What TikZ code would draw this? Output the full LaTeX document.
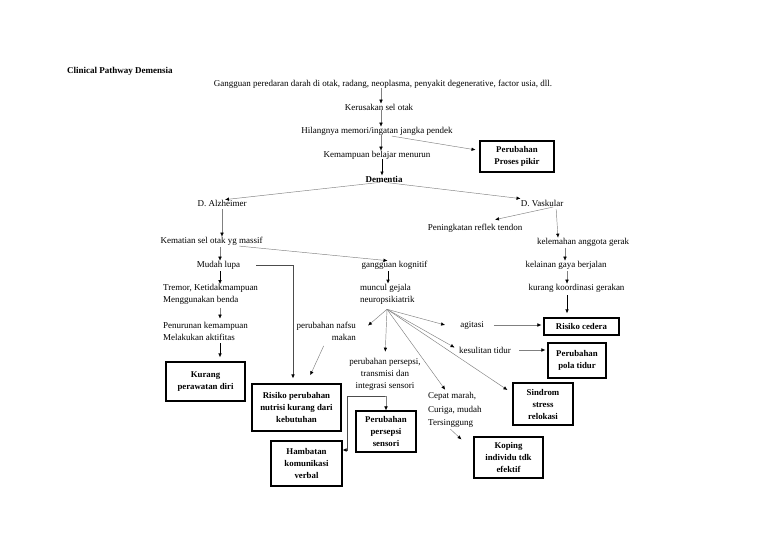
\documentclass[tikz,border=0pt]{standalone}
\usepackage{fontspec}
\setmainfont{Liberation Serif}
\usetikzlibrary{arrows.meta}
\begin{document}
\begin{tikzpicture}[x=1pt,y=-1pt,
  txt/.style={inner sep=0pt, font=\fontsize{9}{12}\selectfont, align=center},
  btxt/.style={txt, font=\bfseries\fontsize{9}{12}\selectfont},
  bx/.style={draw, line width=1.1pt, inner sep=1pt, align=center, font=\bfseries\fontsize{8.8}{12}\selectfont},
  ga/.style={draw=black!50, line width=0.45pt, -{Latex[length=4pt,width=3.5pt,color=black]}},
  ba/.style={draw=black, line width=0.7pt, -{Latex[length=4pt,width=3.5pt]}},
  gl/.style={draw=black!70, line width=0.6pt}
]
\fill[white] (0,0) rectangle (768,543);
\useasboundingbox (0,0) rectangle (768,543);

% text nodes
\node[btxt, anchor=west] (title) at (67,71) {Clinical Pathway Demensia};
\node[txt] (gangguan) at (383,84) {Gangguan peredaran darah di otak, radang, neoplasma, penyakit degenerative, factor usia, dll.};
\node[txt] (kerusakan) at (379,107) {Kerusakan sel otak};
\node[txt] (hilang) at (377,131) {Hilangnya memori/ingatan jangka pendek};
\node[txt] (kemampuan) at (377,155) {Kemampuan belajar menurun};
\node[btxt] (dementia) at (384,179) {Dementia};
\node[txt] (alz) at (222,203) {D. Alzheimer};
\node[txt] (vask) at (542,203) {D. Vaskular};
\node[txt] (kematian) at (211.5,241) {Kematian sel otak yg massif};
\node[txt] (peningkatan) at (475,228) {Peningkatan reflek tendon};
\node[txt] (kelemahan) at (583,242) {kelemahan anggota gerak};
\node[txt] (mudah) at (218.5,265) {Mudah lupa};
\node[txt] (gangguank) at (394.5,265) {gangguan kognitif};
\node[txt] (kelainan) at (566,265) {kelainan gaya berjalan};
\node[txt, anchor=west, align=left] (tremor) at (163,294.5) {Tremor, Ketidakmampuan\\Menggunakan benda};
\node[txt, anchor=west, align=left] (muncul) at (360,294) {muncul gejala\\neuropsikiatrik};
\node[txt] (kurangkoord) at (576.5,288) {kurang koordinasi gerakan};
\node[txt, anchor=west, align=left] (penurunan) at (163,331) {Penurunan kemampuan\\Melakukan aktifitas};
\node[txt, anchor=east, align=right] (nafsu) at (356,331) {perubahan nafsu\\makan};
\node[txt] (agitasi) at (472,325) {agitasi};
\node[txt] (kesulitan) at (485,350) {kesulitan tidur};
\node[txt] (persepsi) at (385,374) {perubahan persepsi,\\transmisi dan\\integrasi sensori};
\node[txt, anchor=west, align=left, font=\fontsize{9}{13.5}\selectfont] (cepat) at (428,410) {Cepat marah,\\Curiga, mudah\\Tersinggung};

% boxes
\node[bx, minimum width=74pt, minimum height=31pt] (proses) at (517,156.5) {Perubahan\\Proses pikir};
\node[bx, minimum width=75pt, minimum height=17pt] (cedera) at (581.5,326.5) {Risiko cedera};
\node[bx, minimum width=58pt, minimum height=35pt] (polatidur) at (577,360.5) {Perubahan\\pola tidur};
\node[bx, minimum width=79pt, minimum height=39pt] (kurangrawat) at (205.5,381.5) {Kurang\\perawatan diri};
\node[bx, minimum width=60pt, minimum height=42pt] (sindrom) at (543,404) {Sindrom\\stress\\relokasi};
\node[bx, minimum width=89pt, minimum height=47pt] (nutrisi) at (296.5,407.5) {Risiko perubahan\\nutrisi kurang dari\\kebutuhan};
\node[bx, minimum width=60pt, minimum height=41pt] (persepsiS) at (386,431.5) {Perubahan\\persepsi\\sensori};
\node[bx, minimum width=71pt, minimum height=45pt] (hambatan) at (306.5,463.5) {Hambatan\\komunikasi\\verbal};
\node[bx, minimum width=69pt, minimum height=41pt] (koping) at (508.5,457.5) {Koping\\individu tdk\\efektif};

% connectors
\draw[ga] ([xshift=-2pt]gangguan.south) -- ([xshift=2pt]kerusakan.north);
\draw[ga] ([xshift=2pt]kerusakan.south) -- ([xshift=4pt]hilang.north);
\draw[ga] ([xshift=4pt]hilang.south) -- ([xshift=4pt]kemampuan.north);
\draw[ba] ([xshift=5pt]kemampuan.south) -- ([xshift=-2pt]dementia.north);
\draw[ga, shorten <=5pt, shorten >=4pt] ([xshift=10pt]hilang.south) -- ([yshift=6pt]proses.west);
\draw[ga] ([xshift=-4pt]dementia.south) -- ([xshift=3pt]alz.north);
\draw[ga] ([xshift=1pt]dementia.south) -- ([yshift=1pt]vask.north west);
\draw[ga, shorten <=3pt] (alz.south) -- (alz.south |- kematian.north);
\draw[ga, shorten <=3pt] ([xshift=14pt]vask.south) -- ([xshift=20pt,yshift=4pt]peningkatan.north);
\draw[ga, shorten <=3pt] ([xshift=14pt]vask.south) -- ([xshift=-25pt]kelemahan.north);
\draw[ga, shorten <=2pt] ([xshift=8.5pt]kematian.south) -- ([xshift=1.5pt]mudah.north);
\draw[ga, shorten <=8pt] ([xshift=20pt]kematian.south) -- ([xshift=-7pt]gangguank.north);
\draw[ga, shorten <=2pt] ([xshift=-18pt]kelemahan.south) -- ([xshift=-1pt]kelainan.north);
\draw[ga, shorten <=2pt] ([xshift=1pt]kelainan.south) -- ([xshift=-9.5pt]kurangkoord.north);
\draw[ba, shorten <=3pt, shorten >=4pt] ([xshift=-9.5pt]kurangkoord.south) -- ([xshift=-14.5pt]cedera.north);
\draw[ba, shorten <=2pt] ([xshift=1.5pt]mudah.south) -- ([xshift=1.5pt]mudah.south |- tremor.north);
\draw[gl, -{Latex[length=4pt,width=3.5pt,color=black]}, shorten >=5pt] ([xshift=16pt]mudah.east) -| ([xshift=-3.5pt]nutrisi.north);
\draw[ba, shorten <=2pt] ([xshift=-6.5pt]gangguank.south) -- ([xshift=-6.5pt]gangguank.south |- muncul.north);
\draw[ga, shorten <=3pt, shorten >=3pt] ([xshift=1.5pt]mudah.south |- tremor.south) -- ([xshift=1.5pt]mudah.south |- penurunan.north);
\draw[ba, shorten <=3pt, shorten >=4pt] ([xshift=1.5pt]mudah.south |- penurunan.south) -- ([xshift=1.5pt]mudah.south |- kurangrawat.north);

\coordinate (mj) at ([xshift=27pt,yshift=-5pt]muncul.south west);
\draw[ga] (mj) -- ([xshift=12pt,yshift=-4pt]nafsu.north east);
\draw[ga, shorten >=6pt] (mj) -- (persepsi.north);
\draw[ga] (mj) -- ([xshift=-15pt]agitasi.west);
\draw[ga, shorten >=5pt] (mj) -- (kesulitan.west);
\draw[ga] (mj) -- ([xshift=-5pt,yshift=14pt]sindrom.west);
\draw[ga, shorten >=3pt] (mj) -- ([xshift=-8pt]cepat.north);
\draw[ga, shorten <=10pt, shorten >=2pt] (agitasi.east) -- (agitasi.east -| cedera.west);
\draw[ga, shorten <=8pt, shorten >=2pt] (kesulitan.east) -- (kesulitan.east -| polatidur.west);
\draw[ga, shorten <=6pt, shorten >=9pt] (nafsu.south) -- ([xshift=10pt]nutrisi.north);
\draw[ga, shorten <=2pt] ([xshift=-6pt]cepat.south) -- ([xshift=-12pt,yshift=-3pt]koping.north west);

\coordinate (pj) at ([yshift=-6pt]persepsi.south);
\draw[ga] (pj) -- (pj -| persepsiS.north) -- (persepsiS.north);
\draw[gl, -{Latex[length=4pt,width=3.5pt,color=black]}] (pj) -| ([xshift=5pt,yshift=13.5pt]hambatan.east) -- ([yshift=13.5pt]hambatan.east);
\end{tikzpicture}
\end{document}
